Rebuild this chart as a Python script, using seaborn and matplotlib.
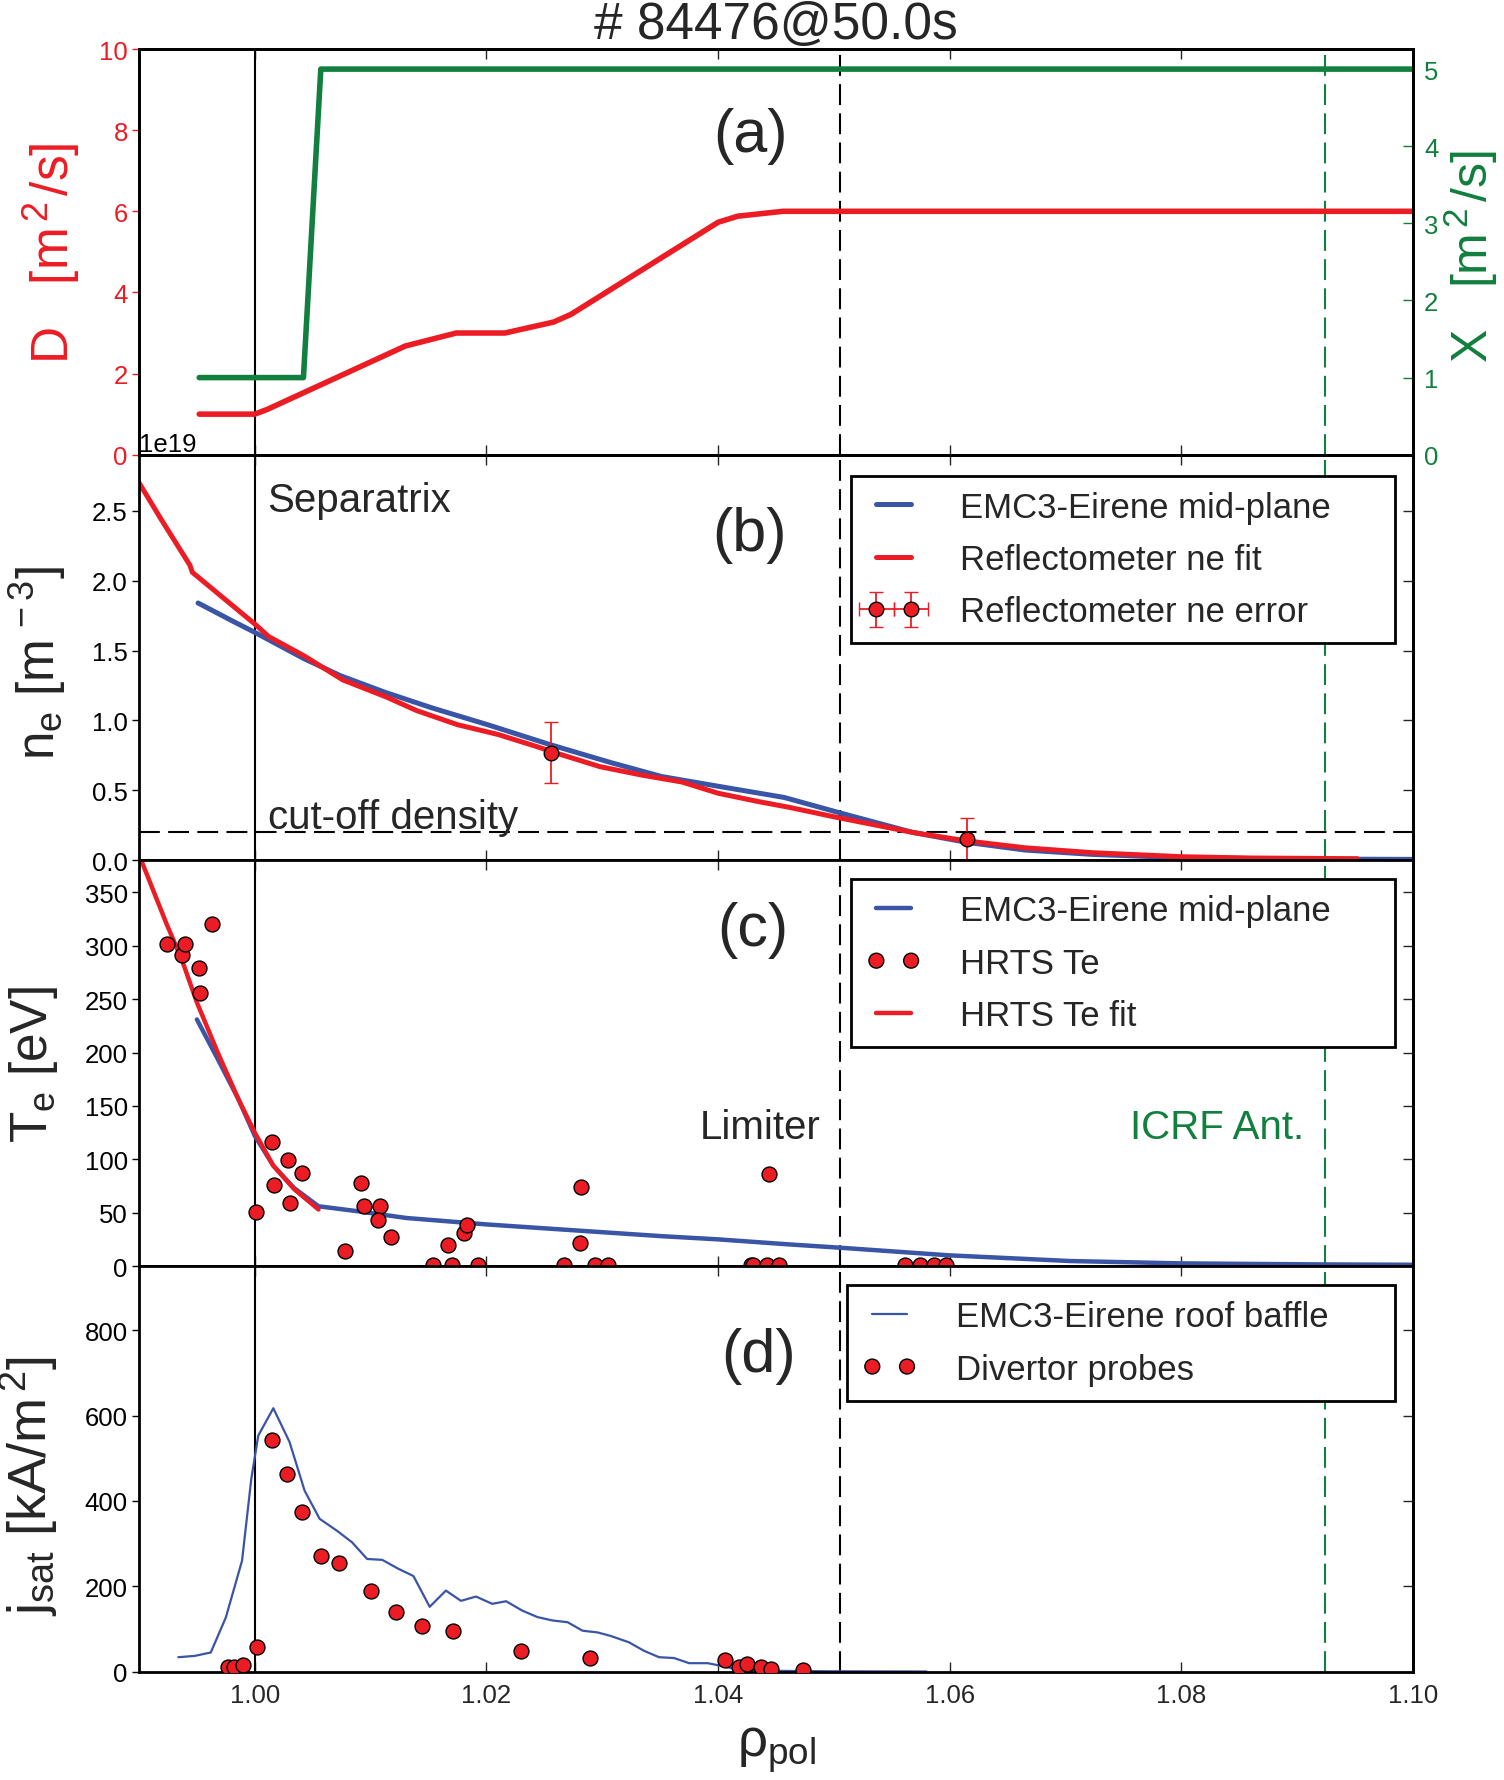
import numpy as np
import matplotlib
matplotlib.use("Agg")
import matplotlib.pyplot as plt
import seaborn as sns

# ---- panel (a): transport coefficients ----
d_x = [0.9952, 1.0000, 1.0011, 1.0130, 1.0174, 1.0216, 1.0258, 1.0273, 1.0400, 1.0417, 1.0456, 1.1000]
d_y = [1.0, 1.0, 1.12, 2.68, 3.0, 3.0, 3.27, 3.46, 5.73, 5.88, 6.0, 6.0]
chi_x = [0.9952, 1.0042, 1.0057, 1.1000]
chi_y = [1.0, 1.0, 5.0, 5.0]

# ---- panel (b): density, in 1e19 m^-3 ----
ne_fit_x = [0.9900, 0.9919, 0.9944, 0.9946, 0.9981, 1.0000, 1.0012, 1.0043, 1.0076, 1.0113,
            1.0140, 1.0175, 1.0210, 1.0241, 1.0263, 1.0298, 1.0334, 1.0369, 1.0400, 1.0435,
            1.0461, 1.0501, 1.0568, 1.0614, 1.0665, 1.0723, 1.0801, 1.0859, 1.0952]
ne_fit_y = [2.70, 2.44, 2.11, 2.06, 1.82, 1.69, 1.60, 1.46, 1.29, 1.17,
            1.07, 0.97, 0.90, 0.82, 0.76, 0.67, 0.61, 0.56, 0.48, 0.42,
            0.38, 0.31, 0.20, 0.14, 0.09, 0.055, 0.026, 0.017, 0.012]
ne_emc_x = [0.9951, 0.9981, 1.0000, 1.0043, 1.0074, 1.0113, 1.0153, 1.0201, 1.0254, 1.0307,
            1.0351, 1.0400, 1.0457, 1.0505, 1.0568, 1.0614, 1.0665, 1.0723, 1.0800, 1.0898, 1.1000]
ne_emc_y = [1.84, 1.71, 1.63, 1.44, 1.32, 1.20, 1.09, 0.97, 0.83, 0.70,
            0.60, 0.53, 0.45, 0.34, 0.20, 0.13, 0.074, 0.043, 0.019, 0.010, 0.007]
ne_err_x = [1.0256, 1.0615]
ne_err_y = [0.77, 0.155]
ne_err_dy = [0.22, 0.15]
ne_err_dx = [0.0002, 0.0002]
ne_cutoff = 0.2

# ---- panel (c): electron temperature [eV] ----
te_fit_x = [0.9902, 0.9924, 0.9937, 0.9950, 0.9968, 0.9986, 1.0000, 1.0016, 1.0034, 1.0055]
te_fit_y = [380, 320, 287, 247, 200, 156, 125, 94, 72, 53]
te_emc_x = [0.9950, 0.9968, 0.9986, 1.0000, 1.0016, 1.0034, 1.0055, 1.0087, 1.0131, 1.0200,
            1.0263, 1.0351, 1.0400, 1.0461, 1.0505, 1.0600, 1.0704, 1.0800, 1.0924, 1.1000]
te_emc_y = [231, 194, 156, 122, 94, 73, 56, 51.6, 45, 39,
            34.4, 28, 25, 20.3, 17.2, 10, 4.7, 2.5, 1.5, 1.2]
te_pts_x = [0.9924, 0.9937, 0.9940, 0.9952, 0.9953, 0.9963, 1.0001, 1.0015, 1.0017, 1.0029,
            1.0030, 1.0041, 1.0078, 1.0092, 1.0094, 1.0108, 1.0106, 1.0118, 1.0154, 1.0167,
            1.0170, 1.0181, 1.0183, 1.0193, 1.0267, 1.0281, 1.0282, 1.0294, 1.0305, 1.0428,
            1.0430, 1.0442, 1.0444, 1.0453, 1.0561, 1.0574, 1.0586, 1.0597]
te_pts_y = [302, 291, 302, 279, 256, 320, 51, 116, 76, 99,
            59, 87, 14, 78, 56, 56, 43, 27, 1, 20,
            1, 31, 38, 1, 1, 22, 74, 1, 1, 1,
            1, 1, 86, 1, 1, 1, 1, 1]

# ---- panel (d): ion saturation current [kA/m^2] ----
js_emc_x = [0.9934, 0.9948, 0.9962, 0.9975, 0.9989, 0.9997, 1.0003, 1.0016, 1.0030, 1.0043,
            1.0056, 1.0071, 1.0084, 1.0097, 1.0110, 1.0124, 1.0137, 1.0151, 1.0165, 1.0178,
            1.0191, 1.0205, 1.0217, 1.0231, 1.0244, 1.0257, 1.0270, 1.0283, 1.0296, 1.0307,
            1.0323, 1.0336, 1.0349, 1.0362, 1.0375, 1.0391, 1.0406, 1.0415, 1.0450, 1.0500, 1.0580]
js_emc_y = [34, 37, 45, 127, 260, 452, 553, 617, 538, 424,
            358, 330, 303, 264, 262, 241, 224, 152, 190, 166,
            176, 159, 165, 143, 128, 120, 116, 96, 92, 84,
            69, 49, 34, 32, 20, 20, 12, 6, 2, 1, 0.5]
js_pts_x = [0.9977, 0.9982, 0.9990, 1.0002, 1.0015, 1.0028, 1.0041, 1.0057, 1.0073, 1.0100,
            1.0122, 1.0144, 1.0171, 1.0230, 1.0289, 1.0406, 1.0418, 1.0425, 1.0437, 1.0446, 1.0473]
js_pts_y = [10, 12, 16, 57, 543, 463, 374, 272, 255, 188,
            141, 108, 95, 48, 31, 27, 10, 17, 10, 6, 4]

# positions of separatrix, limiter and ICRF antenna
rho_sep = 1.000
rho_lim = 1.0505
rho_icrf = 1.0924

RED = '#ec1c24'
GREEN = '#117f3e'
BLUE = '#3a54a6'

TICK_FS = 18.5
LABEL_FS = 37
NOTE_FS = 29
LEG_FS = 25

sns.set_style('ticks')
plt.rcParams['font.family'] = ['Liberation Sans', 'DejaVu Sans']
plt.rcParams['mathtext.fontset'] = 'custom'
plt.rcParams['mathtext.rm'] = 'Liberation Sans'
plt.rcParams['mathtext.it'] = 'Liberation Sans'
plt.rcParams['mathtext.bf'] = 'Liberation Sans:bold'
plt.rcParams['axes.linewidth'] = 2.0
plt.rcParams['axes.edgecolor'] = 'black'
plt.rcParams['xtick.labelsize'] = TICK_FS
plt.rcParams['ytick.labelsize'] = TICK_FS

fig, axes = plt.subplots(4, 1, figsize=(15.04, 17.81), dpi=100, sharex=True)
fig.subplots_adjust(left=0.0924, right=0.9395, top=0.9719, bottom=0.0608, hspace=0)
ax_a, ax_b, ax_c, ax_d = axes


def style_axis(ax, yticks, ylim, ycolor='black', right_ticks=True):
    ax.set_xlim(0.99, 1.10)
    ax.set_ylim(*ylim)
    ax.set_yticks(yticks)
    ax.tick_params(axis='x', direction='in', top=True, bottom=True, length=7.5, width=1, pad=8)
    ax.tick_params(axis='y', direction='out', left=True, right=False, length=5, width=1, pad=3,
                   colors=ycolor)
    if right_ticks:
        sec = ax.secondary_yaxis('right')
        sec.set_yticks(yticks, labels=[])
        sec.tick_params(axis='y', direction='in', length=7.5, width=1)
    ax.axvline(rho_sep, color='black', lw=1.5, zorder=1)
    ax.axvline(rho_lim, color='black', lw=1.5, ls=(0, (10, 4)), zorder=1)
    ax.axvline(rho_icrf, color=GREEN, lw=1.5, ls=(0, (10, 4)), zorder=1)


def boxed_legend(ax, handles, labels, x0, width, top):
    leg = ax.legend(handles, labels, loc='upper left', bbox_to_anchor=(x0, 0, width, top),
                    mode='expand', borderaxespad=0, fontsize=LEG_FS, numpoints=2, scatterpoints=2,
                    scatteryoffsets=[0.5], handlelength=1.6, handletextpad=1.1, borderpad=0.43,
                    labelspacing=0.56, fancybox=False, framealpha=1, edgecolor='black')
    leg.get_frame().set_linewidth(2)
    return leg


# (a)
sns.lineplot(x=d_x, y=d_y, ax=ax_a, color=RED, lw=4, sort=False, estimator=None)
ax_a2 = ax_a.twinx()
sns.lineplot(x=chi_x, y=chi_y, ax=ax_a2, color=GREEN, lw=4, sort=False, estimator=None)
style_axis(ax_a, [0, 2, 4, 6, 8, 10], (0, 10), ycolor=RED, right_ticks=False)
ax_a2.set_ylim(0, 5.26)
ax_a2.set_yticks([0, 1, 2, 3, 4, 5])
ax_a2.tick_params(axis='y', direction='in', length=7.5, width=1, pad=8, colors=GREEN,
                  labelsize=TICK_FS)
ax_a.set_ylabel(r'D   [m$^{\,2\,}$/s]', color=RED, fontsize=LABEL_FS)
ax_a2.set_ylabel(r'X   [m$^{\,2\,}$/s]', color=GREEN, fontsize=LABEL_FS - 1)
ax_a.yaxis.set_label_coords(-0.045, 0.5)
ax_a2.yaxis.set_label_coords(1.023, 0.49)
ax_a.text(1.0428, 7.87, '(a)', fontsize=44, ha='center', va='center')
ax_a.set_title('# 84476@50.0s', fontsize=37, pad=7)

# (b)
e19 = 1e19
l1, = ax_b.plot(np.array(ne_emc_x), np.array(ne_emc_y) * e19, color=BLUE, lw=3.6)
l2, = ax_b.plot(np.array(ne_fit_x), np.array(ne_fit_y) * e19, color=RED, lw=3.6)
eb = ax_b.errorbar(ne_err_x, np.array(ne_err_y) * e19, yerr=np.array(ne_err_dy) * e19,
                   xerr=ne_err_dx, fmt='o', color=RED, ms=10.5, mfc=RED, mec='black', mew=1,
                   ecolor=RED, elinewidth=1.3, capsize=5, capthick=1.3, zorder=4)
ax_b.axhline(ne_cutoff * e19, color='black', lw=1.5, ls=(0, (10, 4)), zorder=1)
style_axis(ax_b, np.arange(0, 2.6, 0.5) * e19, (0, 2.9 * e19))
ax_b.set_ylabel(r'$n_e$ [m$^{\,-3}$]', fontsize=LABEL_FS)
ax_b.yaxis.set_label_coords(-0.056, 0.49)
ax_b.text(1.0011, 2.495 * e19, 'Separatrix', fontsize=NOTE_FS, ha='left', va='baseline')
ax_b.text(1.0011, 0.233 * e19, 'cut-off density', fontsize=NOTE_FS, ha='left', va='baseline')
ax_b.text(1.0427, 2.33 * e19, '(b)', fontsize=44, ha='center', va='center')
boxed_legend(ax_b, [l1, l2, eb], ['EMC3-Eirene mid-plane', 'Reflectometer ne fit',
                                  'Reflectometer ne error'], 0.5589, 0.4270, 0.9484)

# (c)
l3, = ax_c.plot(te_emc_x, te_emc_y, color=BLUE, lw=3.2)
l4, = ax_c.plot(te_fit_x, te_fit_y, color=RED, lw=3.2)
sns.scatterplot(x=te_pts_x, y=te_pts_y, ax=ax_c, color=RED, s=115, edgecolor='black',
                linewidth=1, zorder=4)
pts_c = ax_c.collections[-1]
style_axis(ax_c, np.arange(0, 351, 50), (0, 380))
ax_c.set_ylabel(r'$T_e$ [eV]', fontsize=LABEL_FS)
ax_c.yaxis.set_label_coords(-0.062, 0.5)
ax_c.text(1.0488, 120, 'Limiter', fontsize=NOTE_FS, ha='right', va='baseline')
ax_c.text(1.0906, 120, 'ICRF Ant.', fontsize=NOTE_FS, ha='right', va='baseline', color=GREEN)
ax_c.text(1.0430, 315, '(c)', fontsize=44, ha='center', va='center')
boxed_legend(ax_c, [l3, pts_c, l4], ['EMC3-Eirene mid-plane', 'HRTS Te', 'HRTS Te fit'],
             0.5589, 0.4270, 0.953)

# (d)
l5, = ax_d.plot(js_emc_x, js_emc_y, color=BLUE, lw=1.6)
sns.scatterplot(x=js_pts_x, y=js_pts_y, ax=ax_d, color=RED, s=115, edgecolor='black',
                linewidth=1, zorder=4)
pts_d = ax_d.collections[-1]
style_axis(ax_d, np.arange(0, 801, 200), (0, 950))
ax_d.set_ylabel(r'$j_{sat}$ [kA/m$^{\,2}$]', fontsize=LABEL_FS + 2)
ax_d.yaxis.set_label_coords(-0.062, 0.46)
ax_d.text(1.0435, 740, '(d)', fontsize=44, ha='center', va='center')
boxed_legend(ax_d, [l5, pts_d], ['EMC3-Eirene roof baffle', 'Divertor probes'],
             0.5557, 0.4300, 0.9525)

ax_d.set_xticks(np.arange(1.00, 1.101, 0.02))
ax_d.xaxis.set_major_formatter(matplotlib.ticker.FormatStrFormatter('%.2f'))
ax_d.set_xlabel(r'$\rho_{pol}$', fontsize=38)
ax_d.xaxis.set_label_coords(0.5, -0.13)

fig.savefig('out.png', dpi=100)
